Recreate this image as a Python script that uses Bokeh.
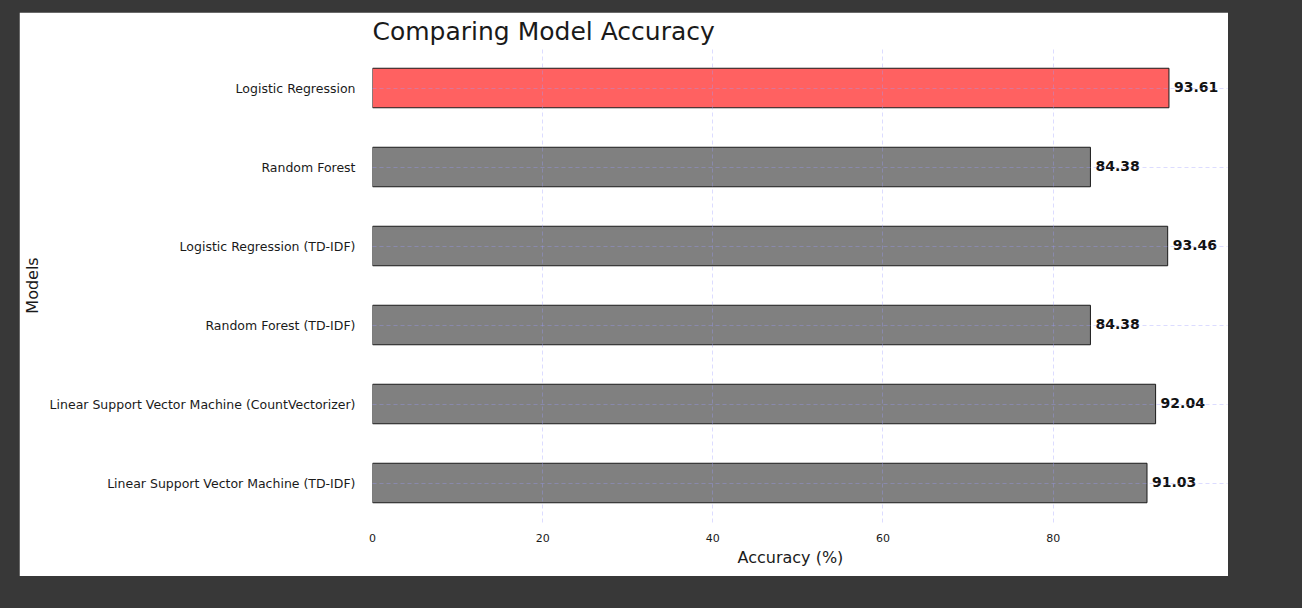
from bokeh.plotting import figure
from bokeh.models import ColumnDataSource, FactorRange, Range1d, FixedTicker, LabelSet, Title
from bokeh.core.properties import value
from bokeh.embed import file_html
from bokeh.resources import INLINE

models = [
    "Logistic Regression",
    "Random Forest",
    "Logistic Regression (TD-IDF)",
    "Random Forest (TD-IDF)",
    "Linear Support Vector Machine (CountVectorizer)",
    "Linear Support Vector Machine (TD-IDF)",
]
accuracy = [93.61, 84.38, 93.46, 84.38, 92.04, 91.03]
bar_colors = ["#ff6161", "#808080", "#808080", "#808080", "#808080", "#808080"]
x_ticks = [0, 20, 40, 60, 80]

FONT = "DejaVu Sans"
x_axis_end = max(accuracy) * 1.05   # matplotlib-style 5% margin

src = ColumnDataSource(dict(
    model=models,
    acc=accuracy,
    color=bar_colors,
    label=[f"{v:.2f}" for v in accuracy],
))

p = figure(
    width=1209, height=564,
    y_range=FactorRange(factors=list(reversed(models))),
    x_range=Range1d(0, x_axis_end + 2.2),
    output_backend="svg", toolbar_location=None,
    min_border_left=351, min_border_right=1,
    min_border_top=36, min_border_bottom=54,
    margin=(12, 0, 0, 19),
)
p.background_fill_color = "white"
p.border_fill_color = "white"
p.outline_line_color = "white"
p.outline_line_alpha = 1
p.outline_line_width = 2

p.title.text = "Comparing Model Accuracy"
p.title.text_font = FONT
p.title.text_font_size = "25px"
p.title.text_font_style = "normal"
p.title.text_color = "#1a1a1a"
p.title.standoff = 5
p.title.offset = 0

p.hbar(y="model", right="acc", left=0, height=0.5, source=src,
       fill_color="color", line_color="#1a1a1a", line_width=1)

labels = LabelSet(x="acc", y="model", text="label", source=src,
                  x_offset=5, y_offset=1, text_baseline="middle",
                  text_font=value(FONT),
                  text_font_size="14px", text_font_style="bold",
                  text_color="#111111")
p.add_layout(labels)

p.xaxis.ticker = FixedTicker(ticks=x_ticks)
p.yaxis.axis_label = "Models"
for ax in (p.xaxis, p.yaxis):
    ax.axis_line_color = None
    ax.major_tick_line_color = None
    ax.minor_tick_line_color = None
    ax.axis_label_text_font = FONT
    ax.axis_label_text_font_size = "16px"
    ax.axis_label_text_font_style = "normal"
    ax.axis_label_text_color = "#1a1a1a"
    ax.major_label_text_font = FONT
    ax.major_label_text_color = "#1a1a1a"
p.xaxis.major_label_text_font_size = "11px"
p.yaxis.major_label_text_font_size = "12.5px"
p.xaxis.major_label_standoff = 5
p.yaxis.major_label_standoff = 11
p.yaxis.axis_label_standoff = 5

# x-axis label centred on the matplotlib-style axes (0 .. 98.29), not on the wider frame
xlabel = Title(text="Accuracy (%)", align="left", offset=365, standoff=3,
               text_font=FONT, text_font_size="16px", text_font_style="normal",
               text_color="#1a1a1a")
p.add_layout(xlabel, "below")

for g in (p.xgrid, p.ygrid):
    g.grid_line_color = "#9a9aff"
    g.grid_line_alpha = 0.35
    g.grid_line_dash = "4 3"
    g.grid_line_width = 1
    g.level = "overlay"
p.ygrid.bounds = (0, x_axis_end)

html = file_html(p, INLINE)
html = html.replace("</head>", "<style>html,body{background:#383838;}</style></head>", 1)
open("out.html", "w").write(html)
